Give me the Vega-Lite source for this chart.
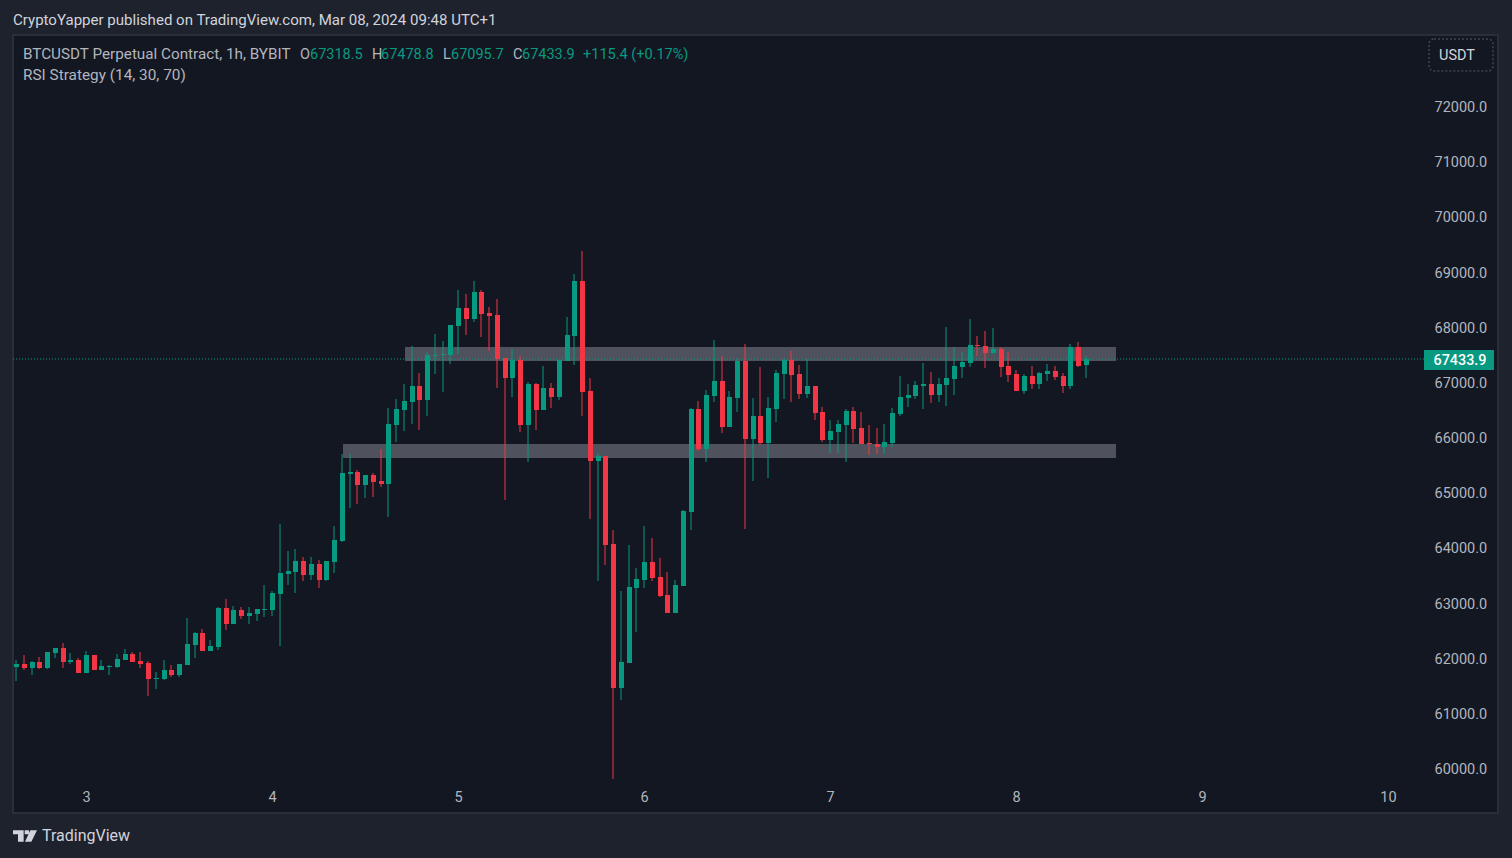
{
  "$schema": "https://vega.github.io/schema/vega-lite/v6.json",
  "description": "BTCUSDT 1h candles with two shaded levels",
  "background": "#1e222d",
  "padding": {"left": 13, "top": 35, "right": 14, "bottom": 45},
  "autosize": {"type": "none"},
  "width": 1485,
  "height": 778,
  "view": {"fill": "#131722", "stroke": "#2a2e39", "strokeWidth": 2},
  "title": {
    "text": "CryptoYapper published on TradingView.com, Mar 08, 2024 09:48 UTC+1",
    "anchor": "start", "frame": "group", "offset": 7,
    "font": "Roboto", "fontSize": 15.06, "fontWeight": "normal", "color": "#d1d4dc"
  },
  "config": {
    "scale": {"continuousPadding": 0},
    "text": {"font": "Roboto", "fontSize": 14.5, "align": "left", "baseline": "middle"}
  },
  "data": {"values": [{}]},
  "datasets": {
    "candles": [
      {"hour":-9,"o":61849,"h":61976,"l":61596,"c":61904},
      {"hour":-8,"o":61904,"h":62067,"l":61795,"c":61831},
      {"hour":-7,"o":61831,"h":61958,"l":61704,"c":61940},
      {"hour":-6,"o":61940,"h":62031,"l":61813,"c":61831},
      {"hour":-5,"o":61831,"h":62121,"l":61813,"c":62121},
      {"hour":-4,"o":62103,"h":62194,"l":62013,"c":62194},
      {"hour":-3,"o":62194,"h":62284,"l":61831,"c":61940},
      {"hour":-2,"o":61940,"h":62103,"l":61904,"c":61976},
      {"hour":-1,"o":61976,"h":62013,"l":61741,"c":61741},
      {"hour":0,"o":61741,"h":62139,"l":61741,"c":62067},
      {"hour":1,"o":62067,"h":62067,"l":61795,"c":61795},
      {"hour":2,"o":61795,"h":61976,"l":61795,"c":61868},
      {"hour":3,"o":61849,"h":61886,"l":61704,"c":61868},
      {"hour":4,"o":61849,"h":62085,"l":61831,"c":61994},
      {"hour":5,"o":61976,"h":62176,"l":61976,"c":62085},
      {"hour":6,"o":62085,"h":62121,"l":61940,"c":61940},
      {"hour":7,"o":61958,"h":62121,"l":61831,"c":61904},
      {"hour":8,"o":61922,"h":61958,"l":61324,"c":61632},
      {"hour":9,"o":61632,"h":61759,"l":61451,"c":61650},
      {"hour":10,"o":61632,"h":61976,"l":61614,"c":61795},
      {"hour":11,"o":61795,"h":61886,"l":61668,"c":61704},
      {"hour":12,"o":61704,"h":61904,"l":61668,"c":61904},
      {"hour":13,"o":61886,"h":62738,"l":61886,"c":62266},
      {"hour":14,"o":62248,"h":62484,"l":62013,"c":62466},
      {"hour":15,"o":62466,"h":62538,"l":62139,"c":62139},
      {"hour":16,"o":62139,"h":62339,"l":62139,"c":62230},
      {"hour":17,"o":62212,"h":62937,"l":62158,"c":62919},
      {"hour":18,"o":62919,"h":63082,"l":62520,"c":62629},
      {"hour":19,"o":62629,"h":62955,"l":62629,"c":62883},
      {"hour":20,"o":62883,"h":62937,"l":62719,"c":62774},
      {"hour":21,"o":62774,"h":62937,"l":62629,"c":62828},
      {"hour":22,"o":62810,"h":62901,"l":62683,"c":62901},
      {"hour":23,"o":62883,"h":63336,"l":62756,"c":62901},
      {"hour":24,"o":62883,"h":63227,"l":62774,"c":63191},
      {"hour":25,"o":63173,"h":64441,"l":62230,"c":63553},
      {"hour":26,"o":63535,"h":63952,"l":63336,"c":63590},
      {"hour":27,"o":63571,"h":63988,"l":63191,"c":63771},
      {"hour":28,"o":63771,"h":63843,"l":63408,"c":63517},
      {"hour":29,"o":63517,"h":63843,"l":63426,"c":63716},
      {"hour":30,"o":63716,"h":63789,"l":63281,"c":63426},
      {"hour":31,"o":63426,"h":63771,"l":63408,"c":63771},
      {"hour":32,"o":63753,"h":64405,"l":63553,"c":64151},
      {"hour":33,"o":64133,"h":65710,"l":64115,"c":65366},
      {"hour":34,"o":65348,"h":65710,"l":64731,"c":65384},
      {"hour":35,"o":65384,"h":65420,"l":64804,"c":65148},
      {"hour":36,"o":65148,"h":65329,"l":64913,"c":65329},
      {"hour":37,"o":65329,"h":65366,"l":64931,"c":65203},
      {"hour":38,"o":65221,"h":65801,"l":65112,"c":65166},
      {"hour":39,"o":65166,"h":66544,"l":64568,"c":66254},
      {"hour":40,"o":66236,"h":66707,"l":65928,"c":66526},
      {"hour":41,"o":66508,"h":66979,"l":66127,"c":66671},
      {"hour":42,"o":66653,"h":67668,"l":66254,"c":66943},
      {"hour":43,"o":66943,"h":67178,"l":66145,"c":66689},
      {"hour":44,"o":66689,"h":67559,"l":66399,"c":67505},
      {"hour":45,"o":67487,"h":67885,"l":67160,"c":67505},
      {"hour":46,"o":67505,"h":67758,"l":66834,"c":67523},
      {"hour":47,"o":67505,"h":68048,"l":67341,"c":68048},
      {"hour":48,"o":68030,"h":68683,"l":67523,"c":68357},
      {"hour":49,"o":68357,"h":68610,"l":67867,"c":68157},
      {"hour":50,"o":68157,"h":68846,"l":68103,"c":68647},
      {"hour":51,"o":68647,"h":68683,"l":67831,"c":68248},
      {"hour":52,"o":68266,"h":68375,"l":67577,"c":68212},
      {"hour":53,"o":68230,"h":68520,"l":66907,"c":67432},
      {"hour":54,"o":67450,"h":67450,"l":64876,"c":67088},
      {"hour":55,"o":67088,"h":67613,"l":66743,"c":67414},
      {"hour":56,"o":67414,"h":67486,"l":66109,"c":66236},
      {"hour":57,"o":66236,"h":67015,"l":65565,"c":66979},
      {"hour":58,"o":66979,"h":66997,"l":66145,"c":66508},
      {"hour":59,"o":66508,"h":67305,"l":66508,"c":66907},
      {"hour":60,"o":66907,"h":66997,"l":66544,"c":66743},
      {"hour":61,"o":66743,"h":67414,"l":66689,"c":67414},
      {"hour":62,"o":67396,"h":68193,"l":67396,"c":67867},
      {"hour":63,"o":67849,"h":68973,"l":67323,"c":68846},
      {"hour":64,"o":68846,"h":69390,"l":66399,"c":66834},
      {"hour":65,"o":66852,"h":67088,"l":64532,"c":65583},
      {"hour":66,"o":65583,"h":65722,"l":63408,"c":65674},
      {"hour":67,"o":65674,"h":65674,"l":63698,"c":64061},
      {"hour":68,"o":64079,"h":64333,"l":59819,"c":61469},
      {"hour":69,"o":61469,"h":63227,"l":61251,"c":61940},
      {"hour":70,"o":61922,"h":64061,"l":61922,"c":63300},
      {"hour":71,"o":63281,"h":63644,"l":62484,"c":63445},
      {"hour":72,"o":63426,"h":64405,"l":63281,"c":63753},
      {"hour":73,"o":63753,"h":64188,"l":63408,"c":63463},
      {"hour":74,"o":63481,"h":63825,"l":63118,"c":63136},
      {"hour":75,"o":63155,"h":63571,"l":62828,"c":62828},
      {"hour":76,"o":62828,"h":63426,"l":62828,"c":63336},
      {"hour":77,"o":63318,"h":64695,"l":63318,"c":64677},
      {"hour":78,"o":64659,"h":66544,"l":64333,"c":66526},
      {"hour":79,"o":66526,"h":66671,"l":65765,"c":65801},
      {"hour":80,"o":65801,"h":66870,"l":65565,"c":66780},
      {"hour":81,"o":66762,"h":67777,"l":66653,"c":67034},
      {"hour":82,"o":67034,"h":67487,"l":66091,"c":66200},
      {"hour":83,"o":66200,"h":66852,"l":66200,"c":66744},
      {"hour":84,"o":66725,"h":67432,"l":66472,"c":67396},
      {"hour":85,"o":67396,"h":67704,"l":64351,"c":65982},
      {"hour":86,"o":65982,"h":66725,"l":65221,"c":66399},
      {"hour":87,"o":66399,"h":67287,"l":65874,"c":65910},
      {"hour":88,"o":65910,"h":66744,"l":65275,"c":66544},
      {"hour":89,"o":66526,"h":67233,"l":66290,"c":67179},
      {"hour":90,"o":67160,"h":67450,"l":66707,"c":67414},
      {"hour":91,"o":67414,"h":67577,"l":66653,"c":67142},
      {"hour":92,"o":67160,"h":67324,"l":66707,"c":66798},
      {"hour":93,"o":66798,"h":67432,"l":66725,"c":66943},
      {"hour":94,"o":66943,"h":66943,"l":66327,"c":66454},
      {"hour":95,"o":66472,"h":66562,"l":65928,"c":65964},
      {"hour":96,"o":65964,"h":66327,"l":65729,"c":66127},
      {"hour":97,"o":66109,"h":66327,"l":65729,"c":66254},
      {"hour":98,"o":66236,"h":66526,"l":65565,"c":66490},
      {"hour":99,"o":66490,"h":66562,"l":65910,"c":66164},
      {"hour":100,"o":66181,"h":66472,"l":65892,"c":65892},
      {"hour":101,"o":65910,"h":66236,"l":65692,"c":65892},
      {"hour":102,"o":65892,"h":66181,"l":65710,"c":65837},
      {"hour":103,"o":65837,"h":66254,"l":65710,"c":65928},
      {"hour":104,"o":65910,"h":66544,"l":65837,"c":66453},
      {"hour":105,"o":66435,"h":67124,"l":66399,"c":66743},
      {"hour":106,"o":66725,"h":66979,"l":66562,"c":66780},
      {"hour":107,"o":66761,"h":67033,"l":66707,"c":66961},
      {"hour":108,"o":66943,"h":67360,"l":66526,"c":66979},
      {"hour":109,"o":66979,"h":67197,"l":66635,"c":66780},
      {"hour":110,"o":66780,"h":67088,"l":66653,"c":66979},
      {"hour":111,"o":66961,"h":68012,"l":66580,"c":67088},
      {"hour":112,"o":67070,"h":67650,"l":66780,"c":67305},
      {"hour":113,"o":67287,"h":67559,"l":67088,"c":67378},
      {"hour":114,"o":67360,"h":68157,"l":67287,"c":67686},
      {"hour":115,"o":67686,"h":67849,"l":67486,"c":67668},
      {"hour":116,"o":67668,"h":67940,"l":67269,"c":67541},
      {"hour":117,"o":67541,"h":67994,"l":67523,"c":67613},
      {"hour":118,"o":67613,"h":67650,"l":67106,"c":67287},
      {"hour":119,"o":67305,"h":67559,"l":67015,"c":67142},
      {"hour":120,"o":67160,"h":67233,"l":66852,"c":66852},
      {"hour":121,"o":66852,"h":67160,"l":66798,"c":67124},
      {"hour":122,"o":67124,"h":67305,"l":66888,"c":66979},
      {"hour":123,"o":66979,"h":67196,"l":66888,"c":67178},
      {"hour":124,"o":67160,"h":67341,"l":67033,"c":67215},
      {"hour":125,"o":67215,"h":67305,"l":67051,"c":67106},
      {"hour":126,"o":67124,"h":67178,"l":66816,"c":66943},
      {"hour":127,"o":66943,"h":67704,"l":66888,"c":67650},
      {"hour":128,"o":67650,"h":67740,"l":67287,"c":67305},
      {"hour":129,"o":67318.5,"h":67478.8,"l":67095.7,"c":67433.9}
    ],
    "levels": [
      {"start":41.16,"end":132.9,"low":67396,"high":67650},
      {"start":33.16,"end":132.9,"low":65638,"high":65892}
    ]
  },
  "layer": [
    {
      "data": {"name": "levels"},
      "mark": {"type": "rect", "fill": "#4f525c"},
      "encoding": {
        "x": {
          "field": "start", "type": "quantitative", "title": null,
          "scale": {"domain": [-9.419, 182.19], "nice": false, "zero": false, "round": true},
          "axis": {
            "values": [0, 24, 48, 72, 96, 120, 144, 168],
            "labelExpr": "3 + datum.value / 24",
            "orient": "bottom", "offset": -28, "grid": false, "domain": false, "ticks": false,
            "labelPadding": 5, "labelFont": "Roboto", "labelFontSize": 14.5, "labelColor": "#b2b5be"
          }
        },
        "x2": {"field": "end"},
        "y": {
          "field": "low", "type": "quantitative", "title": null,
          "scale": {"domain": [59202.6, 73305.1], "nice": false, "zero": false, "round": true},
          "axis": {
            "values": [60000, 61000, 62000, 63000, 64000, 65000, 66000, 67000, 68000, 69000, 70000, 71000, 72000],
            "format": ".1f",
            "orient": "right", "offset": -64, "grid": false, "domain": false, "ticks": false,
            "labelPadding": 0, "labelFont": "Roboto", "labelFontSize": 14.5, "labelColor": "#b2b5be"
          }
        },
        "y2": {"field": "high"}
      }
    },
    {
      "mark": {"type": "rule", "color": "#089981", "strokeWidth": 1, "strokeDash": [1, 2]},
      "encoding": {
        "x": {"datum": -9.419},
        "x2": {"datum": 172.65},
        "y": {"datum": 67433.9}
      }
    },
    {
      "data": {"name": "candles"},
      "mark": {"type": "rule", "strokeWidth": 1},
      "encoding": {
        "x": {"field": "hour", "type": "quantitative"},
        "y": {"field": "l", "type": "quantitative"},
        "y2": {"field": "h"},
        "color": {"condition": {"test": "datum.c >= datum.o", "value": "#089981"}, "value": "#f23645"}
      }
    },
    {
      "data": {"name": "candles"},
      "mark": {"type": "bar", "size": 5, "xOffset": 0.5},
      "encoding": {
        "x": {"field": "hour", "type": "quantitative"},
        "y": {"field": "o", "type": "quantitative"},
        "y2": {"field": "c"},
        "color": {"condition": {"test": "datum.c >= datum.o", "value": "#089981"}, "value": "#f23645"}
      }
    },
    {
      "mark": {"type": "rect", "fill": "#089981"},
      "encoding": {
        "x": {"datum": 172.65}, "x2": {"datum": 181.68},
        "y": {"datum": 67233}, "y2": {"datum": 67595}
      }
    },
    {
      "mark": {"type": "text", "text": "67433.9", "color": "#ffffff", "align": "center", "fontWeight": 500, "fontSize": 14.4},
      "encoding": {"x": {"datum": 177.29}, "y": {"datum": 67395}}
    },
    {
      "mark": {"type": "rect", "fill": "#131722", "stroke": "#434651", "strokeWidth": 1.5, "strokeDash": [2, 2], "cornerRadius": 5},
      "encoding": {
        "x": {"datum": 173.29}, "x2": {"datum": 181.55},
        "y": {"datum": 72653}, "y2": {"datum": 73233}
      }
    },
    {
      "mark": {"type": "text", "text": "USDT", "color": "#d1d4dc", "align": "center"},
      "encoding": {"x": {"datum": 176.9}, "y": {"datum": 72925}}
    },
    {
      "mark": {"type": "text", "text": "BTCUSDT Perpetual Contract, 1h, BYBIT", "color": "#b2b5be", "fontSize": 15.25},
      "encoding": {"x": {"datum": -8.13}, "y": {"datum": 72961}}
    },
    {
      "mark": {"type": "text", "text": "RSI Strategy (14, 30, 70)", "color": "#b2b5be", "fontSize": 15.35},
      "encoding": {"x": {"datum": -8.13}, "y": {"datum": 72580}}
    },
    {
      "mark": {"type": "text", "text": "O", "color": "#b2b5be"},
      "encoding": {"x": {"datum": 27.6}, "y": {"datum": 72935}}
    },
    {
      "mark": {"type": "text", "text": "67318.5", "color": "#089981"},
      "encoding": {"x": {"datum": 28.9}, "y": {"datum": 72935}}
    },
    {
      "mark": {"type": "text", "text": "H", "color": "#b2b5be"},
      "encoding": {"x": {"datum": 36.9}, "y": {"datum": 72935}}
    },
    {
      "mark": {"type": "text", "text": "67478.8", "color": "#089981"},
      "encoding": {"x": {"datum": 38.06}, "y": {"datum": 72935}}
    },
    {
      "mark": {"type": "text", "text": "L", "color": "#b2b5be"},
      "encoding": {"x": {"datum": 46.06}, "y": {"datum": 72935}}
    },
    {
      "mark": {"type": "text", "text": "67095.7", "color": "#089981"},
      "encoding": {"x": {"datum": 47.1}, "y": {"datum": 72935}}
    },
    {
      "mark": {"type": "text", "text": "C", "color": "#b2b5be"},
      "encoding": {"x": {"datum": 55.1}, "y": {"datum": 72935}}
    },
    {
      "mark": {"type": "text", "text": "67433.9", "color": "#089981"},
      "encoding": {"x": {"datum": 56.26}, "y": {"datum": 72935}}
    },
    {
      "mark": {"type": "text", "text": "+115.4 (+0.17%)", "color": "#089981"},
      "encoding": {"x": {"datum": 64.13}, "y": {"datum": 72935}}
    },
    {
      "mark": {"type": "text", "text": "TradingView", "color": "#d1d4dc", "fontSize": 16},
      "encoding": {
        "x": {"datum": -5.68},
        "y": {"datum": 58785, "scale": {"domain": [59202.6, 73305.1], "nice": false, "zero": false}}
      }
    },
    {
      "mark": {
        "type": "point", "filled": true, "opacity": 1, "color": "#d1d4dc", "size": 2304,
        "shape": "M-.5,-.243L-.056,-.243L-.056,.243L-.292,.243L-.292,-.076L-.5,-.076ZM-.014,-.243L.167,-.243L.167,-.076L-.014,-.076ZM.222,-.243L.5,-.243L.264,.243L0,.243Z"
      },
      "encoding": {
        "x": {"datum": -7.87},
        "y": {"datum": 58785, "scale": {"domain": [59202.6, 73305.1], "nice": false, "zero": false}}
      }
    }
  ]
}
